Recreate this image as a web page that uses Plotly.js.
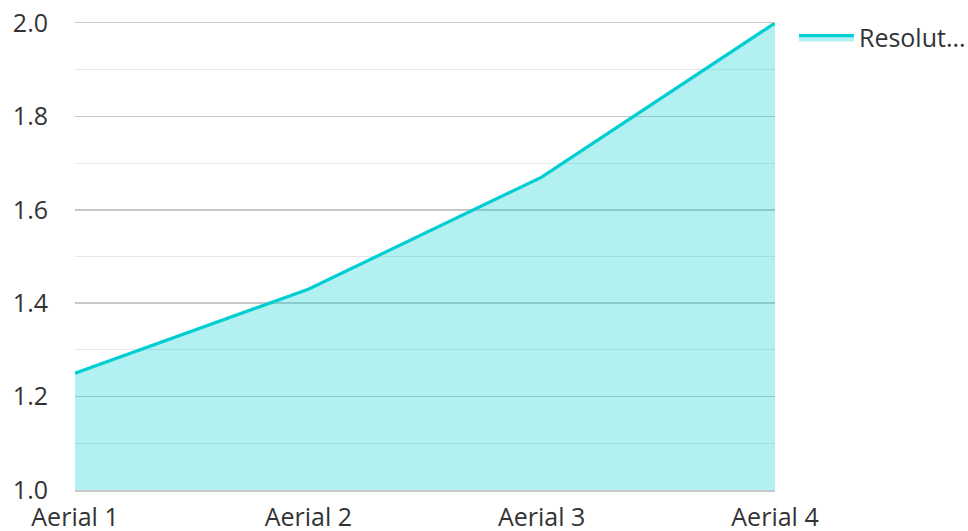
<!DOCTYPE html>
<html><head><meta charset="utf-8">
<script src="https://cdn.plot.ly/plotly-3.0.1.min.js"></script>
<style>html,body{margin:0;padding:0;background:#fff}#chart{width:968px;height:531px}</style>
</head><body><div id="chart"></div>
<script>
const categories = ["Aerial 1", "Aerial 2", "Aerial 3", "Aerial 4"];
const seriesName = "Resolut...";
const values = [1.25, 1.43, 1.67, 2.0];
const yTicks = [1.0, 1.2, 1.4, 1.6, 1.8, 2.0];
const yTickLabels = ["1.0", "1.2", "1.4", "1.6", "1.8", "2.0"];

const trace = {
  x: categories, y: values, type: "scatter", mode: "lines", name: seriesName,
  fill: "tozeroy", fillcolor: "rgba(0,206,209,0.3)",
  line: {color: "#00CED1", width: 3.2}
};
const layout = {
  width: 968, height: 531,
  margin: {l: 75, r: 193, t: 23, b: 41},
  paper_bgcolor: "#fff", plot_bgcolor: "#fff",
  font: {family: "Open Sans, Noto Sans, sans-serif", size: 25, color: "#333"},
  showlegend: true,
  legend: {xref: "container", yref: "container", x: 0.8202, y: 0.972, xanchor: "left", yanchor: "top",
    itemwidth: 55, font: {size: 25, color: "#333"}, bgcolor: "rgba(0,0,0,0)"},
  xaxis: {type: "category", range: [0, 3], showgrid: false, zeroline: false,
    showline: true, mirror: true, linecolor: "#c8c8c8", linewidth: 1.5, layer: "below traces",
    ticks: "", ticklen: 0, ticklabelstandoff: 4, tickfont: {size: 25, color: "#333"}, automargin: false},
  yaxis: {range: [1.0, 2.0], tickvals: yTicks, ticktext: yTickLabels, showgrid: true,
    gridcolor: "#c8c8c8", gridwidth: 1.5, zeroline: false, showline: false,
    minor: {dtick: 0.1, showgrid: true, gridcolor: "#e6e6e6", gridwidth: 1},
    ticks: "", ticklabelstandoff: 26, tickfont: {size: 25, color: "#333"}, automargin: false}
};
Plotly.newPlot("chart", [trace], layout, {displayModeBar: false, staticPlot: true});
</script></body></html>
